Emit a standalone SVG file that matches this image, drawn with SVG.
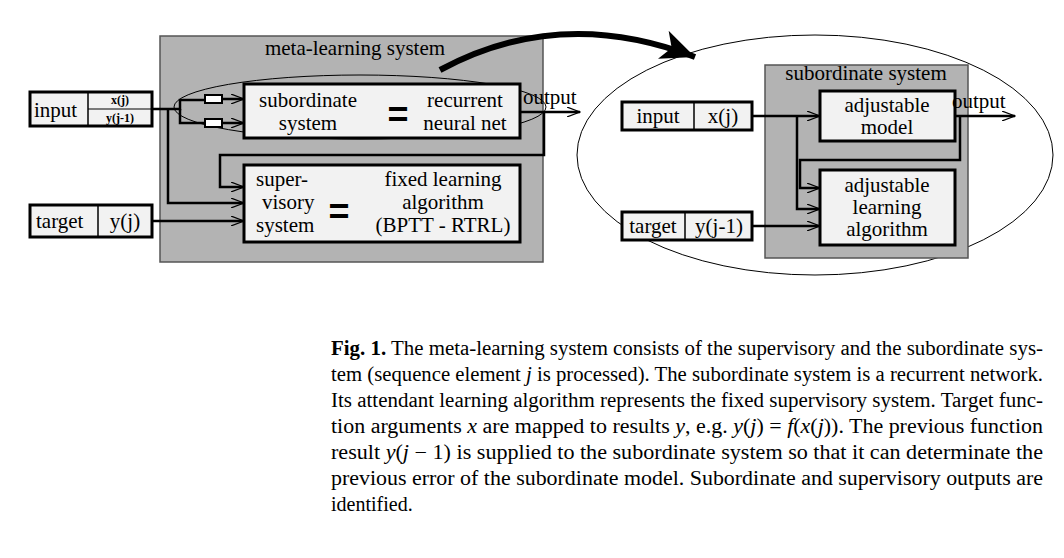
<svg xmlns="http://www.w3.org/2000/svg" width="1064" height="558" viewBox="0 0 1064 558" font-family="'Liberation Serif','Times New Roman',serif">
<defs>
<marker id="a" markerWidth="14" markerHeight="10" refX="13" refY="5" orient="auto" markerUnits="userSpaceOnUse"><path d="M0,0 L13,5 L0,10" fill="none" stroke="#000" stroke-width="1.2"/></marker>
<marker id="big" markerWidth="36" markerHeight="30" refX="34" refY="15" orient="auto" markerUnits="userSpaceOnUse"><path d="M0,0 L34,15 L0,30 L9,15 Z" fill="#000"/></marker>
</defs>
<style>
text{font-family:'Liberation Serif','Times New Roman',serif;fill:#000}
.d{font-size:21px}
.s{font-size:12px;font-weight:bold}
.c{font-size:20px}
.box{fill:#f2f2f2;stroke:#000;stroke-width:3}
.g{fill:#b3b3b3;stroke:#555;stroke-width:1.5}
</style>
<rect width="1064" height="558" fill="#fff"/>
<g id="meta"><rect class="g" x="160" y="36" width="383" height="226"/><text class="d" x="355" y="55" text-anchor="middle">meta-learning system</text></g>
<ellipse cx="360" cy="107" rx="186" ry="32" fill="none" stroke="#000" stroke-width="1"/>
<g id="subsys"><rect class="box" x="244" y="84" width="276" height="54"/>
<text class="d" x="308" y="107" text-anchor="middle">subordinate</text><text class="d" x="308" y="130" text-anchor="middle">system</text>
<text x="398" y="127" font-size="36" font-weight="bold" text-anchor="middle" style="font-family:'Liberation Sans',sans-serif">=</text>
<text class="d" x="465" y="107" text-anchor="middle">recurrent</text><text class="d" x="465" y="130" text-anchor="middle">neural net</text></g>
<g id="superv"><rect class="box" x="244" y="165" width="276" height="77"/>
<text class="d" x="256" y="186">super-</text><text class="d" x="262" y="209">visory</text><text class="d" x="256" y="232">system</text>
<text x="339" y="224" font-size="36" font-weight="bold" text-anchor="middle" style="font-family:'Liberation Sans',sans-serif">=</text>
<text class="d" x="443" y="186" text-anchor="middle">fixed learning</text><text class="d" x="443" y="209" text-anchor="middle">algorithm</text><text class="d" x="443" y="232" text-anchor="middle">(BPTT - RTRL)</text></g>
<g id="input1"><rect class="box" x="30" y="92" width="122" height="34"/><line x1="88" y1="92" x2="88" y2="126" stroke="#000" stroke-width="1.5"/><line x1="88" y1="109" x2="152" y2="109" stroke="#000"/>
<text class="d" x="34" y="117">input</text><text class="s" x="120" y="104" text-anchor="middle">x(j)</text><text class="s" x="120" y="122" text-anchor="middle">y(j-1)</text></g>
<g id="target1"><rect class="box" x="30" y="205" width="122" height="32"/><line x1="98" y1="205" x2="98" y2="237" stroke="#000" stroke-width="1.5"/>
<text class="d" x="36" y="228">target</text><text class="d" x="125" y="228" text-anchor="middle">y(j)</text></g>
<rect x="205" y="95" width="17" height="8" fill="#fff" stroke="#000" stroke-width="2"/>
<rect x="205" y="119" width="17" height="8" fill="#fff" stroke="#000" stroke-width="2"/>
<g id="right"><ellipse cx="815" cy="155" rx="238" ry="120" fill="none" stroke="#000" stroke-width="1"/>
<rect class="g" x="765" y="65" width="203" height="193"/><text class="d" x="866" y="80" text-anchor="middle">subordinate system</text></g>
<g id="model"><rect class="box" x="820" y="91" width="135" height="50"/><text class="d" x="887" y="112" text-anchor="middle">adjustable</text><text class="d" x="887" y="134" text-anchor="middle">model</text></g>
<g id="alg"><rect class="box" x="820" y="170" width="135" height="75"/><text class="d" x="887" y="192" text-anchor="middle">adjustable</text><text class="d" x="887" y="214" text-anchor="middle">learning</text><text class="d" x="887" y="236" text-anchor="middle">algorithm</text></g>
<g id="input2"><rect class="box" x="622" y="102" width="130" height="28"/><line x1="694" y1="102" x2="694" y2="130" stroke="#000" stroke-width="1.5"/><text class="d" x="658" y="123" text-anchor="middle">input</text><text class="d" x="723" y="123" text-anchor="middle">x(j)</text></g>
<g id="target2"><rect class="box" x="622" y="212" width="130" height="28"/><line x1="685" y1="212" x2="685" y2="240" stroke="#000" stroke-width="1.5"/><text class="d" x="653" y="233" text-anchor="middle">target</text><text class="d" x="719" y="233" text-anchor="middle">y(j-1)</text></g>
<g id="connectors" fill="none" stroke="#000" stroke-width="2.5">
<path d="M152,109 H180 V100 H205"/><path d="M180,109 V123 H205"/>
<path d="M222,99 H244" marker-end="url(#a)"/><path d="M222,123 H244" marker-end="url(#a)"/>
<path d="M168,109 V203 H244" marker-end="url(#a)"/>
<path d="M152,221 H244" marker-end="url(#a)"/>
<path d="M520,112 H580" marker-end="url(#a)"/>
<path d="M544,112 V155 H220 V187 H244" marker-end="url(#a)"/>
<path d="M752,116 H820" marker-end="url(#a)"/>
<path d="M797,116 V209 H820" marker-end="url(#a)"/>
<path d="M752,226 H820" marker-end="url(#a)"/>
<path d="M955,116 H1015" marker-end="url(#a)"/>
<path d="M960,116 V160 H800 V188 H820" marker-end="url(#a)"/>
<path d="M440,70 Q560,5 695,57" stroke-width="6" marker-end="url(#big)"/>
</g>
<text class="d" x="523" y="104">output</text>
<text class="d" x="952" y="108">output</text>
<g>
<text x="331" y="355" textLength="712" lengthAdjust="spacingAndGlyphs" class="c"><tspan font-weight="bold">Fig. 1.</tspan> The meta-learning system consists of the supervisory and the subordinate sys-</text>
<text x="331" y="381" textLength="712" lengthAdjust="spacingAndGlyphs" class="c">tem (sequence element <tspan font-style="italic">j</tspan> is processed). The subordinate system is a recurrent network.</text>
<text x="331" y="407" textLength="712" lengthAdjust="spacingAndGlyphs" class="c">Its attendant learning algorithm represents the fixed supervisory system. Target func-</text>
<text x="331" y="433" textLength="712" lengthAdjust="spacingAndGlyphs" class="c">tion arguments <tspan font-style="italic">x</tspan> are mapped to results <tspan font-style="italic">y</tspan>, e.g. <tspan font-style="italic">y</tspan>(<tspan font-style="italic">j</tspan>) = <tspan font-style="italic">f</tspan>(<tspan font-style="italic">x</tspan>(<tspan font-style="italic">j</tspan>)). The previous function</text>
<text x="331" y="459" textLength="712" lengthAdjust="spacingAndGlyphs" class="c">result <tspan font-style="italic">y</tspan>(<tspan font-style="italic">j</tspan> − 1) is supplied to the subordinate system so that it can determinate the</text>
<text x="331" y="485" textLength="712" lengthAdjust="spacingAndGlyphs" class="c">previous error of the subordinate model. Subordinate and supervisory outputs are</text>
<text x="331" y="511" class="c">identified.</text>
</g>
</svg>
